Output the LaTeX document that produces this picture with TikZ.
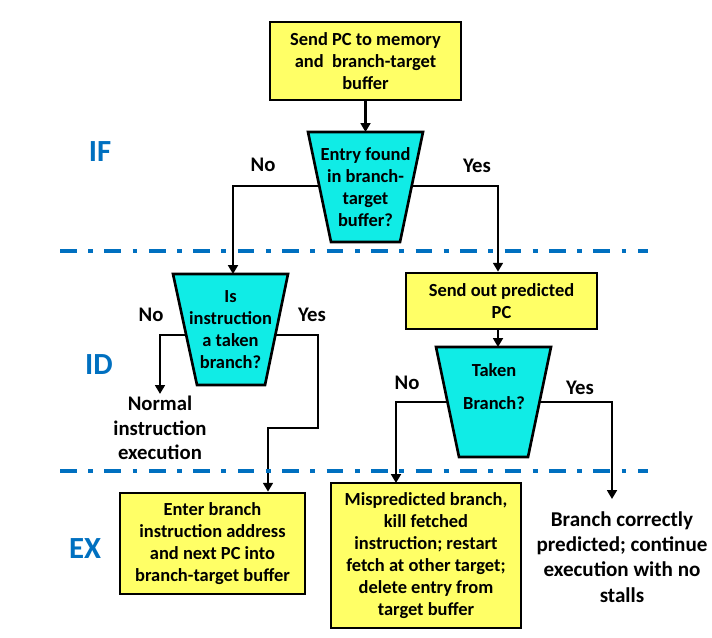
\documentclass[tikz,border=0pt]{standalone}
\usepackage{fontspec}
\setmainfont{Carlito}
\usetikzlibrary{arrows.meta}

\definecolor{boxyellow}{RGB}{255,255,102}
\definecolor{trapcyan}{RGB}{16,236,230}
\definecolor{stageblue}{RGB}{0,112,192}

\begin{document}
\begin{tikzpicture}[x=0.02cm, y=-0.02cm,
    box/.style={draw, line width=1.5pt, fill=boxyellow, align=center, inner sep=0pt,
      font=\bfseries\fontsize{10.5}{12.6}\selectfont},
    trap/.style={draw, line width=1.5pt, fill=trapcyan},
    txt/.style={align=center, inner sep=1pt, font=\bfseries\fontsize{10.5}{12.6}\selectfont},
    lbl/.style={inner sep=1pt, font=\bfseries\fontsize{11.8}{14}\selectfont},
    stage/.style={text=stageblue, inner sep=1pt, font=\bfseries\fontsize{17.5}{20}\selectfont},
    arr/.style={line width=1.5pt, -{Triangle[width=5.5pt,length=5pt]}},
    sep/.style={draw=stageblue, line width=2.3pt,
      dash pattern=on 9.5pt off 6.5pt on 2.8pt off 6.5pt}]

    \useasboundingbox (0,0) rectangle (712,637);

    % 画矩形框
    \node[box, minimum width=3.82cm, minimum height=1.56cm] (send) at (365.5,61)
      {Send PC to memory\\and\ \ branch-target\\buffer};
    \node[box, minimum width=3.82cm, minimum height=1.12cm] (pred) at (501.5,301)
      {Send out predicted\\PC};
    \node[box, minimum width=3.7cm, minimum height=2.02cm] (enter) at (212.5,543.5)
      {Enter branch\\instruction address\\and next PC into\\branch-target buffer};
    \node[box, minimum width=3.8cm, minimum height=2.9cm] (mis) at (426,555.5)
      {Mispredicted branch,\\kill fetched\\instruction; restart\\fetch at other target;\\delete entry from\\target buffer};

    % 画梯形
    \draw[trap] (308,132) -- (423,132) -- (400,242) -- (331,242) -- cycle;
    \node[txt] (found) at (365.5,187) {Entry found\\in branch-\\target\\buffer?};
    \draw[trap] (173,274) -- (288,274) -- (265,385) -- (197,385) -- cycle;
    \node[txt] (taken1) at (230.5,329.5) {Is\\instruction\\a taken\\branch?};
    \draw[trap] (436,347) -- (551,347) -- (528,457) -- (459,457) -- cycle;
    \node[txt] (taken2) at (494,386.5) {Taken\\[6.2pt]Branch?};

    % 梯形上的连接点
    \coordinate (foundN) at (365.5,132);
    \coordinate (foundW) at (319.3,186);
    \coordinate (foundE) at (411.7,186);
    \coordinate (taken1N) at (233,274);
    \coordinate (taken1W) at (186.2,335);
    \coordinate (taken1E) at (275.4,335);
    \coordinate (taken2N) at (498,347);
    \coordinate (taken2W) at (447.5,402);
    \coordinate (taken2E) at (539.5,402);
    \coordinate (misN) at (396,483);
    \coordinate (bend) at (268,428);

    % 插入文字
    \node[txt, font=\bfseries\fontsize{11.8}{14}\selectfont] (normal) at (160,428)
      {Normal\\instruction\\execution};
    \node[txt, font=\bfseries\fontsize{12}{14.4}\selectfont] (correct) at (622,557)
      {Branch correctly\\predicted; continue\\execution with no\\stalls};
    \coordinate (correctN) at (612,499);

    \node[lbl] (no1) at (263,165) {No};
    \node[lbl] (yes1) at (477,166) {Yes};
    \node[lbl] (no2) at (151,315) {No};
    \node[lbl] (yes2) at (312,315) {Yes};
    \node[lbl] (no3) at (407,383) {No};
    \node[lbl] (yes3) at (580,388) {Yes};

    \node[stage] (stageIF) at (100,152) {IF};
    \node[stage] (stageID) at (99,365) {ID};
    \node[stage] (stageEX) at (85,549) {EX};

    % 画箭头
    \draw[arr] (send.south -| foundN) -- (foundN);
    \draw[arr] (foundW) -| (taken1N);
    \draw[arr] (foundE) -| (pred.north -| taken2N);
    \draw[arr] (pred.south -| taken2N) -- (taken2N);
    \draw[arr] (taken1W) -| (normal.north);
    \draw[arr] (taken1E) -| ++(42.6,0) |- (bend) -- (bend |- enter.north);
    \draw[arr] (taken2W) -| (misN);
    \draw[arr] (taken2E) -| (correctN);

    % 画分隔线
    \draw[sep] (60,251) -- (648,251);
    \draw[sep] (60,471) -- (648,471);

\end{tikzpicture}
\end{document}
